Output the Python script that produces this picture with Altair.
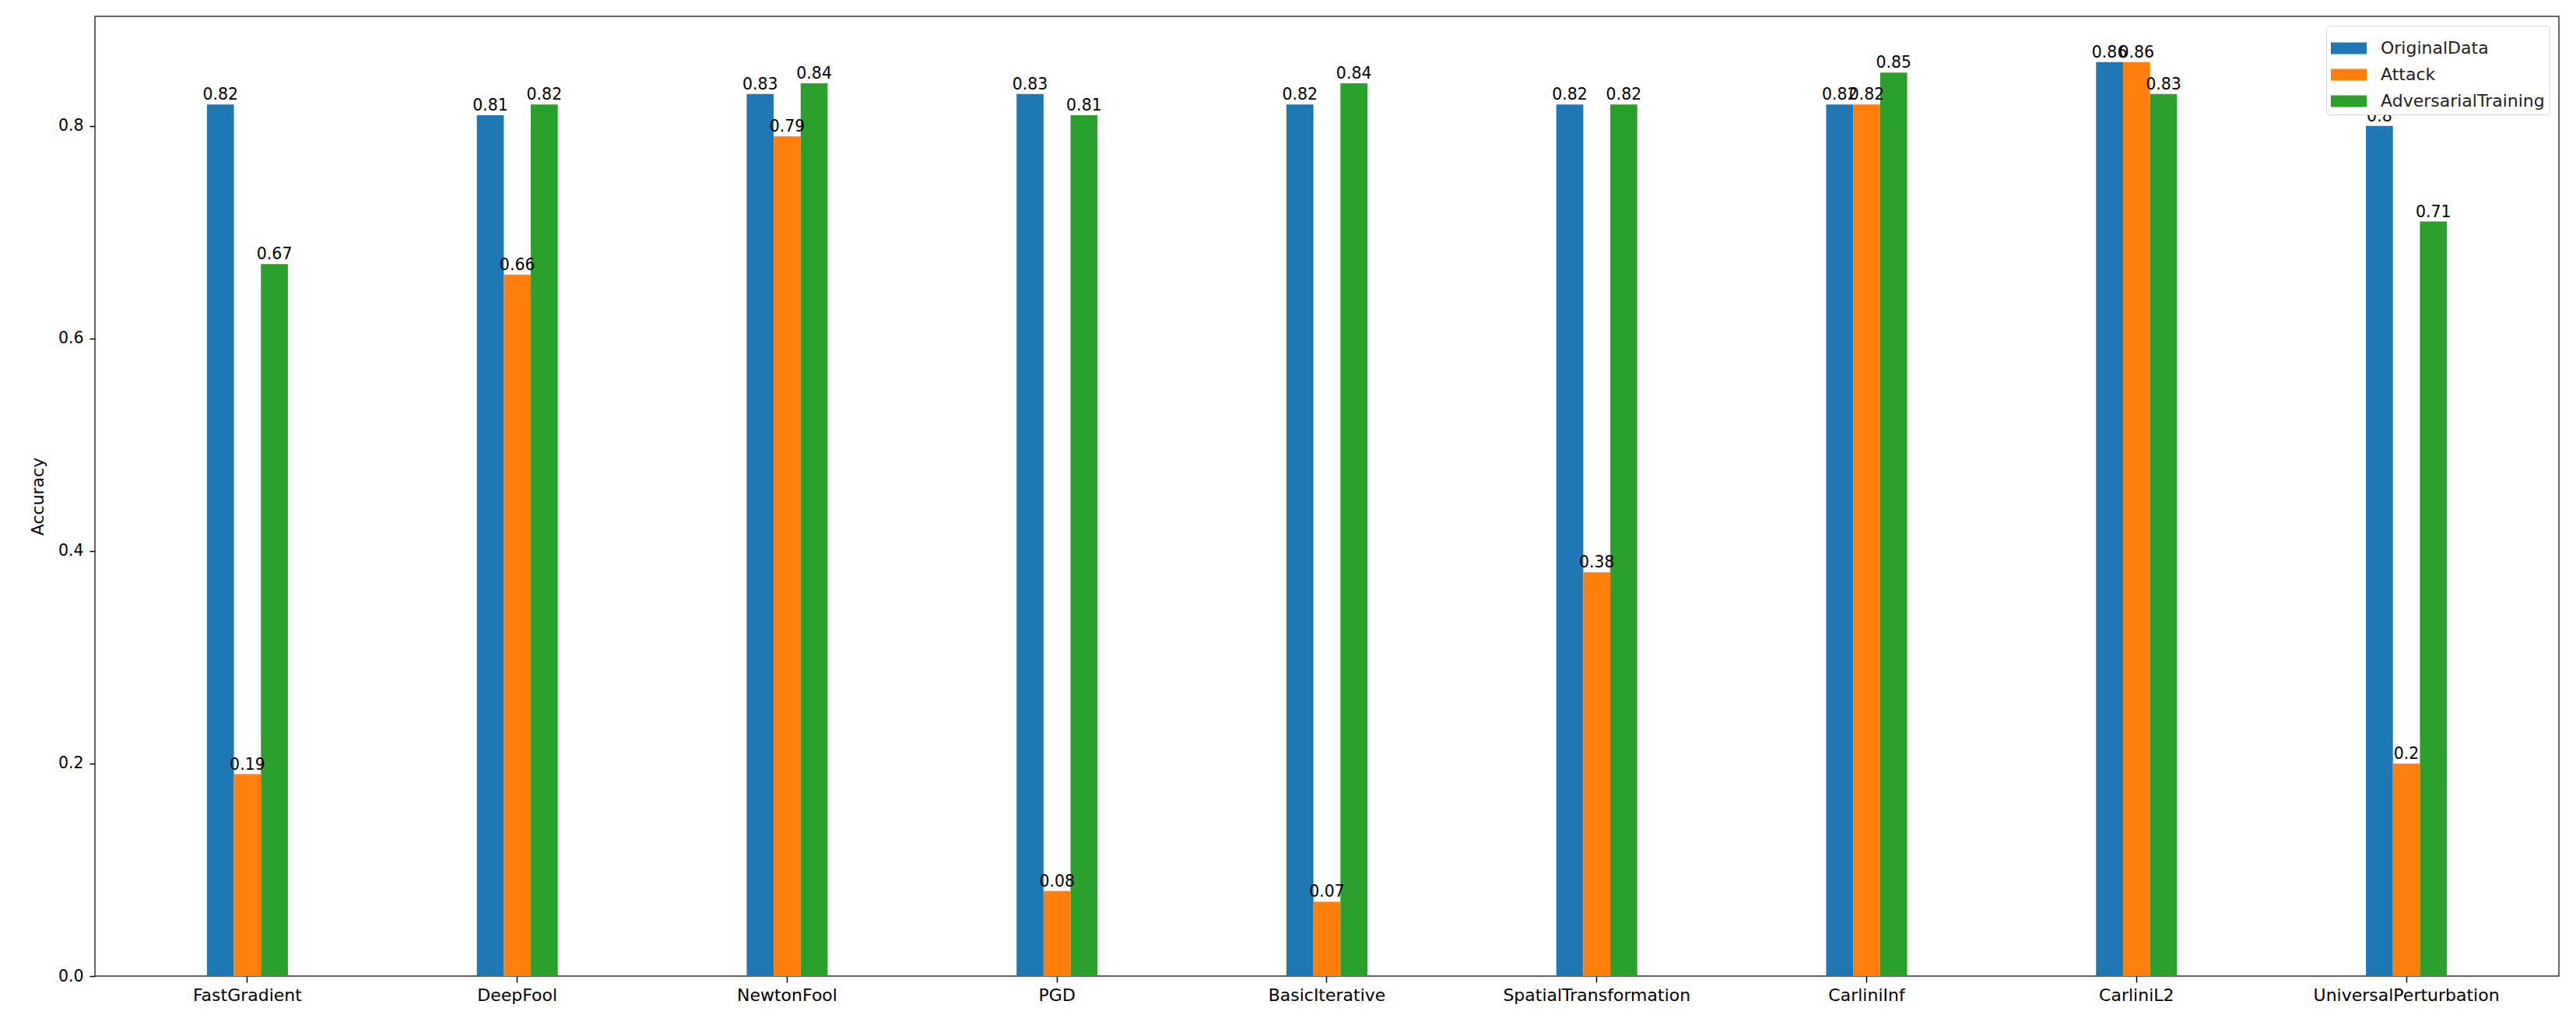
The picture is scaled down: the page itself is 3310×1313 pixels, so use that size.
import altair as alt
import pandas as pd

methods = ["FastGradient", "DeepFool", "NewtonFool", "PGD", "BasicIterative",
           "SpatialTransformation", "CarliniInf", "CarliniL2", "UniversalPerturbation"]
original_data = [0.82, 0.81, 0.83, 0.83, 0.82, 0.82, 0.82, 0.86, 0.8]
attack = [0.19, 0.66, 0.79, 0.08, 0.07, 0.38, 0.82, 0.86, 0.2]
adversarial_training = [0.67, 0.82, 0.84, 0.81, 0.84, 0.82, 0.85, 0.83, 0.71]
series = ["OriginalData", "Attack", "AdversarialTraining"]
colors = ["#1f77b4", "#ff7f0e", "#2ca02c"]
y_ticks = [0.0, 0.2, 0.4, 0.6, 0.8]

rows = []
for i, m in enumerate(methods):
    for s, vals in zip(series, [original_data, attack, adversarial_training]):
        rows.append({"method": m, "series": s, "value": vals[i], "label": str(vals[i])})
df = pd.DataFrame(rows)

FONT = "DejaVu Sans"

x = alt.X("method:N", sort=methods,
          scale=alt.Scale(paddingInner=0.7, paddingOuter=0.415),
          axis=alt.Axis(title=None, labelAngle=0, labelFontSize=22, labelColor="black",
                        tickSize=8, tickColor="black", tickWidth=1.5, domain=False,
                        labelPadding=6, labelFont=FONT, labelLimit=0))
xo = alt.XOffset("series:N", sort=series, scale=alt.Scale(paddingInner=0, paddingOuter=0))
y = alt.Y("value:Q", scale=alt.Scale(domain=[0, 0.903], nice=False, zero=True),
          axis=alt.Axis(values=y_ticks, format=".1f", title="Accuracy", grid=False,
                        labelFontSize=20.5, labelColor="black", titleFontSize=22,
                        titleFontWeight="normal", titleColor="black", titlePadding=14,
                        tickSize=7, tickColor="black", tickWidth=1.5, domain=False,
                        labelPadding=8, labelFont=FONT, titleFont=FONT))
color = alt.Color("series:N", sort=series,
                  scale=alt.Scale(domain=series, range=colors),
                  legend=alt.Legend(title=None, orient="top-right", offset=12,
                                    fillColor="white", strokeColor="#d8d8d8",
                                    cornerRadius=4, padding=6,
                                    symbolType="M-1,-0.33H1V0.33H-1Z", symbolSize=2116,
                                    symbolStrokeWidth=0, symbolOpacity=1,
                                    labelFontSize=22, labelFont=FONT, labelColor="#222",
                                    labelOffset=18, rowPadding=0, labelLimit=0))

bars = alt.Chart(df).mark_bar().encode(x=x, xOffset=xo, y=y, color=color)
texts = alt.Chart(df).mark_text(baseline="alphabetic", dy=-6, fontSize=20.5,
                                font=FONT, color="black").encode(
    x=x, xOffset=xo, y=y, text="label:N")

chart = (bars + texts).properties(
    width=3166, height=1233,
    background="white",
    autosize=alt.AutoSizeParams(type="none"),
    padding={"left": 114, "top": 13, "right": 14, "bottom": 50},
).configure_view(stroke="#333", strokeWidth=1.5)

chart.save("out.html", embed_options={"renderer": "svg", "actions": False})
